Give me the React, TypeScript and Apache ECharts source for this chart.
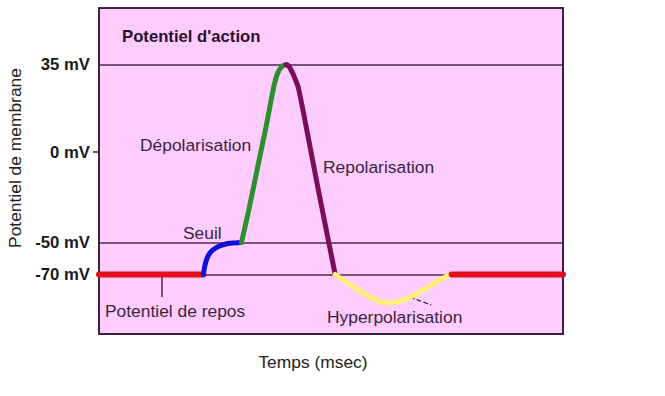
import React, { useEffect, useRef } from "react";
import * as echarts from "echarts";

// ---- data (time in ms, potential in mV) ----
const reposT1 = [0, 2.25];
const reposMv1 = [-70, -70];
const seuilT = [2.25, 2.28, 2.33, 2.41, 2.52, 2.65, 2.82, 3.07];
const seuilMv = [-70, -64.7, -59.7, -55.9, -53.4, -51.6, -50.5, -50];
const depolT = [3.07, 3.22, 3.43, 3.61, 3.76, 3.85, 3.95, 4.03];
const depolMv = [-50, -33, -7, 11, 25.6, 31.6, 34.5, 35];
const repolT = [4.03, 4.08, 4.12, 4.19, 4.3, 4.72, 5.09];
const repolMv = [35, 34.7, 33.6, 31, 25.6, -20, -70];
const hyperT = [5.09, 5.48, 5.84, 6.2, 6.56, 6.92, 7.28, 7.56];
const hyperMv = [-70, -77.6, -83.9, -87.6, -85.9, -80.8, -74.5, -70];
const reposT2 = [7.6, 10];
const reposMv2 = [-70, -70];

const tickMv = [35, 0, -50, -70];
const tickLabels = ["35 mV", "0 mV", "-50 mV", "-70 mV"];
const gridMv = [35, -50, -70];

// schematic (non-linear) vertical scale: anchors mV -> display units
const anchorMv = [-70, -50, 0, 35];
const anchorDisp = [59.5, 91.5, 182, 269.2];

function toDisp(mv: number): number {
  if (mv <= anchorMv[0]) return anchorDisp[0] + (mv - anchorMv[0]) * 1.6;
  for (let i = 0; i < anchorMv.length - 1; i++) {
    if (mv <= anchorMv[i + 1]) {
      const f = (mv - anchorMv[i]) / (anchorMv[i + 1] - anchorMv[i]);
      return anchorDisp[i] + f * (anchorDisp[i + 1] - anchorDisp[i]);
    }
  }
  const n = anchorMv.length - 1;
  return anchorDisp[n] + (mv - anchorMv[n]) * 2.49;
}

const pairs = (t: number[], mv: number[]) => t.map((x, i) => [x, toDisp(mv[i])]);

const FONT = "'Liberation Sans', Arial, sans-serif";
const TXT = "#3b2640";

export default function App() {
  const ref = useRef<HTMLDivElement>(null);
  useEffect(() => {
    if (!ref.current) return;
    const chart = echarts.init(ref.current, undefined, { renderer: "svg" });
    const tickDisp = tickMv.map(toDisp);
    const seg = (name: string, t: number[], mv: number[], color: string, width: number, smooth: boolean | number) => ({
      name,
      type: "line",
      data: pairs(t, mv),
      showSymbol: false,
      symbol: "none",
      smooth,
      z: 3,
      lineStyle: { color, width, cap: "round", join: "round" },
    });
    const annText = (text: string, x: number, y: number, bold = false, color = TXT) => ({
      type: "text",
      x,
      y,
      silent: true,
      style: {
        text,
        fill: color,
        font: `${bold ? "bold 16.7px" : "17.4px"} ${FONT}`,
        align: "left",
        verticalAlign: "middle",
      },
    });
    chart.setOption({
      animation: false,
      backgroundColor: "#ffffff",
      grid: {
        left: 99,
        right: 102,
        top: 8,
        bottom: 62,
        show: true,
        backgroundColor: "#ffccff",
        borderColor: "#3e2340",
        borderWidth: 2,
      },
      xAxis: {
        type: "value",
        min: 0,
        max: 10,
        name: "Temps (msec)",
        nameLocation: "middle",
        nameGap: 19,
        nameTextStyle: { fontSize: 17.4, color: "#222222", fontFamily: FONT, padding: [0, 36, 0, 0] },
        axisLine: { show: false },
        axisTick: { show: false },
        axisLabel: { show: false },
        splitLine: { show: false },
      },
      yAxis: {
        type: "value",
        min: 0,
        max: 326,
        axisLine: { show: false },
        axisTick: {
          show: true,
          customValues: [toDisp(0)],
          length: 6,
          lineStyle: { color: "#3e2340", width: 1.5 },
        },
        axisLabel: {
          customValues: tickDisp,
          margin: 9,
          fontSize: 16.7,
          fontWeight: "bold",
          color: "#1a1a1a",
          fontFamily: FONT,
          formatter: (v: number) => {
            let best = 0;
            tickDisp.forEach((d, i) => {
              if (Math.abs(d - v) < Math.abs(tickDisp[best] - v)) best = i;
            });
            return tickLabels[best];
          },
        },
        splitLine: { show: false },
      },
      series: [
        {
          name: "grille",
          type: "line",
          data: [],
          z: 1,
          markLine: {
            silent: true,
            z: 1,
            symbol: "none",
            label: { show: false },
            lineStyle: { color: "#4b2a4b", width: 1.5, type: "solid" },
            data: [
              ...gridMv.map((v) => ({ yAxis: toDisp(v) })),
              [
                { coord: [1.36, toDisp(-70)] },
                { coord: [1.36, toDisp(-84)] },
              ],
              [
                { coord: [6.7, toDisp(-84.2)], lineStyle: { type: "dashed", color: "#222222", width: 1.2 } },
                { coord: [7.16, toDisp(-89)] },
              ],
            ],
          },
        },
        seg("Potentiel de repos", reposT1, reposMv1, "#e2101c", 6, false),
        seg("Seuil", seuilT, seuilMv, "#1010dd", 5, 0.3),
        seg("Dépolarisation", depolT, depolMv, "#2e8f2e", 5, 0.2),
        seg("Repolarisation", repolT, repolMv, "#7a0d5c", 5, 0.2),
        seg("Hyperpolarisation", hyperT, hyperMv, "#fff07a", 5, true),
        seg("Potentiel de repos 2", reposT2, reposMv2, "#e2101c", 6, false),
      ],
      graphic: [
        {
          type: "text",
          x: 15,
          y: 158,
          rotation: Math.PI / 2,
          silent: true,
          style: {
            text: "Potentiel de membrane",
            fill: "#222222",
            font: `17.4px ${FONT}`,
            align: "center",
            verticalAlign: "middle",
          },
        },
        annText("Potentiel d'action", 122, 36, true, "#2a1030"),
        annText("Dépolarisation", 140, 145),
        annText("Repolarisation", 323, 167),
        annText("Seuil", 183, 233),
        annText("Potentiel de repos", 105, 311),
        annText("Hyperpolarisation", 327, 317),
      ],
    });
    return () => chart.dispose();
  }, []);
  return (
    <div
      ref={ref}
      style={{ position: "fixed", left: 0, top: 0, width: 665, height: 396 }}
    />
  );
}
